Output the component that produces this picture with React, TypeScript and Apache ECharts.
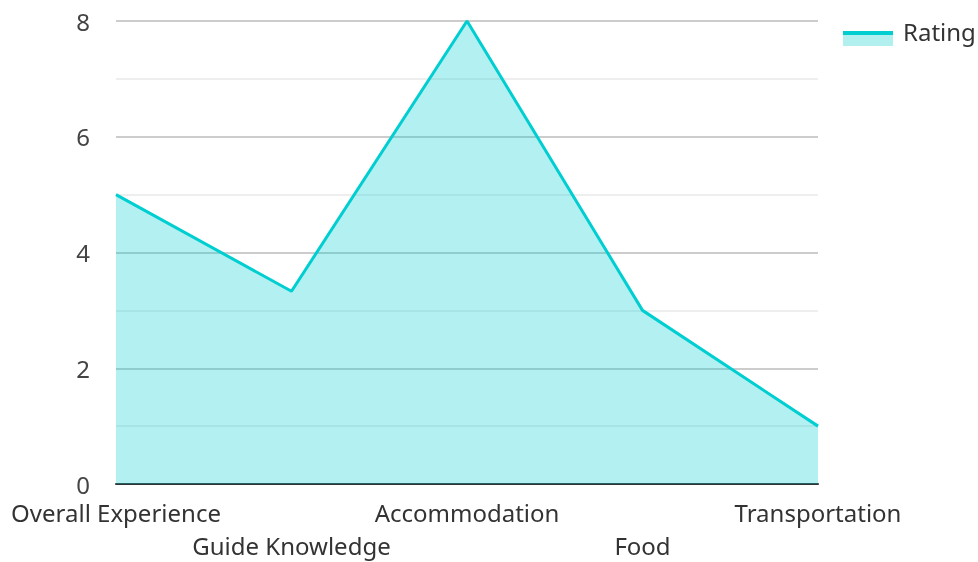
import React, { useEffect, useRef } from "react";
import * as echarts from "echarts";

const categories = ["Overall Experience", "Guide Knowledge", "Accommodation", "Food", "Transportation"];
const ratings = [5, 3.33, 8, 3, 1];
const seriesName = "Rating";

export default function App() {
  const ref = useRef<HTMLDivElement>(null);
  useEffect(() => {
    const chart = echarts.init(ref.current!, null, { renderer: "svg" });
    const font = "Noto Sans";
    chart.setOption({
      animation: false,
      grid: { left: 116, right: 160, top: 21, bottom: 74, containLabel: false },
      legend: {
        data: [seriesName],
        left: 843,
        top: 17,
        padding: 0,
        icon: "path://M0 0h0.05v0.05h-0.05Z M0 14h50v15h-50Z",
        itemWidth: 50,
        itemHeight: 29,
        itemGap: 10,
        itemStyle: { color: "#b2efef", borderWidth: 0 },
        textStyle: { fontFamily: font, fontSize: 24, color: "#333", padding: [0, 0, 0, 5] },
      },
      graphic: [
        {
          type: "rect",
          left: 843,
          top: 31,
          shape: { width: 50, height: 4 },
          style: { fill: "#00ced1" },
          silent: true,
          z: 100,
        },
      ],
      xAxis: {
        type: "category",
        data: categories,
        boundaryGap: false,
        axisLine: { show: true, lineStyle: { color: "#333", width: 2 } },
        axisTick: { show: false },
        splitLine: { show: false },
        axisLabel: {
          interval: 0,
          margin: 12,
          fontFamily: font,
          fontSize: 24,
          lineHeight: 33,
          color: "#333",
          formatter: (v: string, i: number) => (i % 2 === 1 ? "\n" + v : v),
        },
      },
      yAxis: {
        type: "value",
        min: 0,
        max: 8,
        interval: 2,
        axisLine: { show: false },
        axisTick: { show: false },
        axisLabel: { margin: 26, fontFamily: font, fontSize: 24, lineHeight: 20, color: "#444" },
        splitLine: { show: true, lineStyle: { color: "#ccc", width: 2 } },
        minorTick: { show: false, splitNumber: 2 },
        minorSplitLine: { show: true, lineStyle: { color: "#eee", width: 2 } },
      },
      series: [
        {
          name: seriesName,
          type: "line",
          data: ratings,
          symbol: "none",
          lineStyle: { color: "#00ced1", width: 3 },
          itemStyle: { color: "#00ced1" },
          areaStyle: { color: "#00ced1", opacity: 0.3 },
        },
      ],
    });
    return () => chart.dispose();
  }, []);
  return <div ref={ref} style={{ position: "fixed", left: 0, top: 0, width: 978, height: 562 }} />;
}
